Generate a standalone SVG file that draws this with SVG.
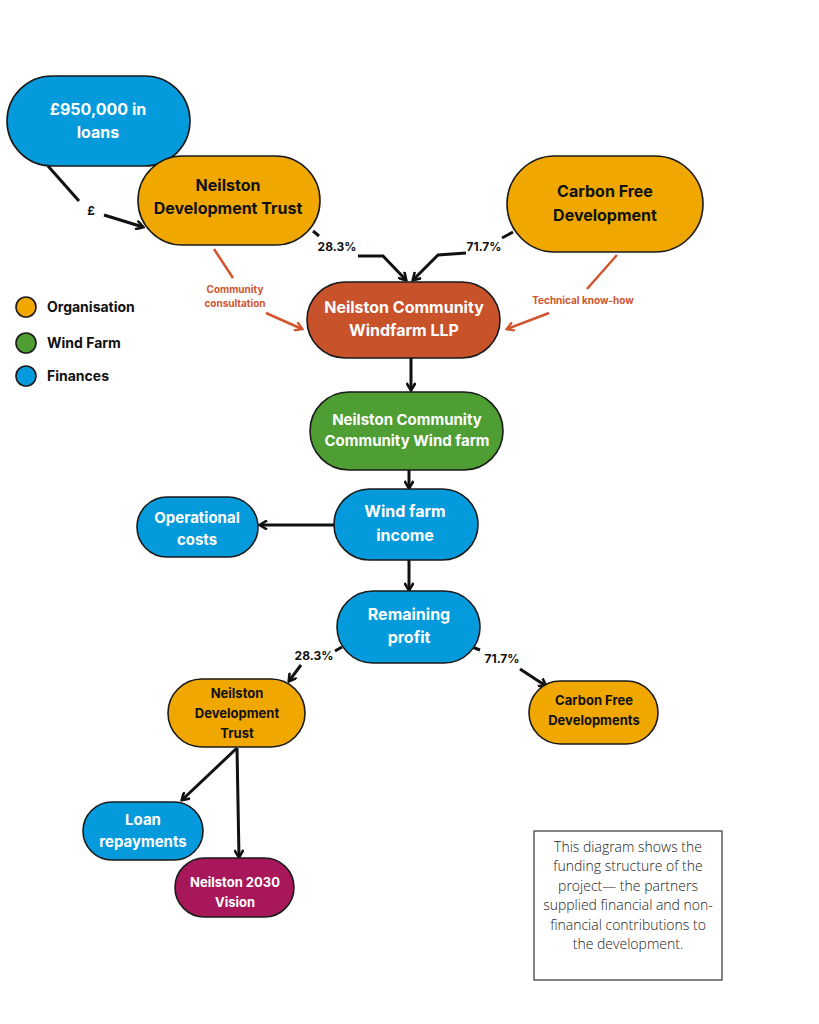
<svg xmlns="http://www.w3.org/2000/svg" width="819" height="1024" viewBox="0 0 819 1024">
<style>
.n{stroke:#1a1a1a;stroke-width:1.6}
.blue{fill:#049ADB}.org{fill:#F0A800}.llp{fill:#C8522A}.grn{fill:#4E9E33}.mag{fill:#A8175A}
text{font-family:Inter,"Liberation Sans",sans-serif;font-weight:700;text-anchor:middle}
.w{fill:#fff}.k{fill:#111}
.c{fill:none;stroke:#111;stroke-width:3}
.o{fill:none;stroke:#D0552F;stroke-width:2.5}
.lbl{font-size:12px;fill:#111}
.ol{font-size:10px;fill:#D0552F}
.leg{font-size:14px;fill:#111;text-anchor:start}
.note{font-family:"Open Sans",Lato,sans-serif;font-weight:300;font-size:14px;fill:#222}
</style>
<defs>
<marker id="ak" markerWidth="10" markerHeight="10" refX="8" refY="5" orient="auto" markerUnits="userSpaceOnUse" viewBox="0 0 10 10">
<path d="M1,0.5 L8.5,5 L1,9.5" fill="none" stroke="#111" stroke-width="2.6"/>
</marker>
<marker id="ao" markerWidth="10" markerHeight="10" refX="8" refY="5" orient="auto" markerUnits="userSpaceOnUse" viewBox="0 0 10 10">
<path d="M1,0.5 L8.5,5 L1,9.5" fill="none" stroke="#D0552F" stroke-width="2.3"/>
</marker>
</defs>
<rect width="819" height="1024" fill="#fff"/>

<g id="connectors">
<line class="c" x1="48" y1="166" x2="79" y2="201"/>
<line class="c" x1="104" y1="215" x2="143" y2="227" marker-end="url(#ak)"/>
<line class="c" x1="313" y1="231" x2="319" y2="236"/>
<polyline class="c" points="358,256 383,256 406,280" marker-end="url(#ak)"/>
<line class="c" x1="513" y1="232" x2="502" y2="238"/>
<polyline class="c" points="466,253 438,255 413,280" marker-end="url(#ak)"/>
<line class="o" x1="214" y1="249" x2="233" y2="278"/>
<line class="o" x1="266" y1="313" x2="302" y2="329" marker-end="url(#ao)"/>
<line class="o" x1="617" y1="255" x2="587" y2="289"/>
<line class="o" x1="549" y1="313" x2="507" y2="329" marker-end="url(#ao)"/>
<line class="c" x1="411" y1="358" x2="411" y2="390" marker-end="url(#ak)"/>
<line class="c" x1="409" y1="470" x2="409" y2="488" marker-end="url(#ak)"/>
<line class="c" x1="334" y1="525" x2="260" y2="525" marker-end="url(#ak)"/>
<line class="c" x1="409" y1="560" x2="409" y2="590" marker-end="url(#ak)"/>
<line class="c" x1="342" y1="647" x2="335" y2="651"/>
<line class="c" x1="301" y1="665" x2="289" y2="681" marker-end="url(#ak)"/>
<line class="c" x1="472" y1="647" x2="480" y2="650"/>
<line class="c" x1="520" y1="669" x2="546" y2="686" marker-end="url(#ak)"/>
<line class="c" x1="237" y1="748" x2="182" y2="800" marker-end="url(#ak)"/>
<line class="c" x1="237" y1="748" x2="239" y2="857" marker-end="url(#ak)"/>
<text class="lbl" x="91" y="215">£</text>
<text class="lbl" x="337" y="251">28.3%</text>
<text class="lbl" x="484" y="251">71.7%</text>
<text class="ol" x="235" y="293">Community</text>
<text class="ol" x="235" y="307">consultation</text>
<text class="ol" x="583" y="304">Technical know-how</text>
<text class="lbl" x="314" y="660">28.3%</text>
<text class="lbl" x="502" y="663">71.7%</text>
</g>

<g id="n-loans">
<rect class="n blue" x="7" y="76" width="183" height="90" rx="45"/>
<text class="w" font-size="16" x="98" y="115">£950,000 in</text>
<text class="w" font-size="16" x="98" y="138">loans</text>
</g>
<g id="n-ndt">
<rect class="n org" x="138" y="156" width="182" height="89" rx="44.5"/>
<text class="k" font-size="16" x="228" y="191">Neilston</text>
<text class="k" font-size="16" x="228" y="214">Development Trust</text>
</g>
<g id="n-cfd">
<rect class="n org" x="507" y="156" width="196" height="96" rx="48"/>
<text class="k" font-size="16" x="605" y="197">Carbon Free</text>
<text class="k" font-size="16" x="605" y="221">Development</text>
</g>
<g id="n-llp">
<rect class="n llp" x="307" y="282" width="193" height="76" rx="38"/>
<text class="w" font-size="16" x="404" y="313">Neilston Community</text>
<text class="w" font-size="16" x="404" y="336">Windfarm LLP</text>
</g>
<g id="n-windfarm">
<rect class="n grn" x="310" y="392" width="193" height="78" rx="39"/>
<text class="w" font-size="15" x="407" y="425">Neilston Community</text>
<text class="w" font-size="15" x="407" y="446">Community Wind farm</text>
</g>
<g id="n-income">
<rect class="n blue" x="334" y="489" width="144" height="71" rx="35.5"/>
<text class="w" font-size="16" x="405" y="517">Wind farm</text>
<text class="w" font-size="16" x="405" y="541">income</text>
</g>
<g id="n-opcosts">
<rect class="n blue" x="137" y="497" width="121" height="60" rx="30"/>
<text class="w" font-size="15" x="197" y="523">Operational</text>
<text class="w" font-size="15" x="197" y="545">costs</text>
</g>
<g id="n-profit">
<rect class="n blue" x="337" y="591" width="143" height="72" rx="36"/>
<text class="w" font-size="16" x="409" y="620">Remaining</text>
<text class="w" font-size="16" x="409" y="643">profit</text>
</g>
<g id="n-ndt2">
<rect class="n org" x="168" y="679" width="137" height="68" rx="34"/>
<text class="k" font-size="13" x="237" y="698">Neilston</text>
<text class="k" font-size="13" x="237" y="718">Development</text>
<text class="k" font-size="13" x="237" y="738">Trust</text>
</g>
<g id="n-cfds">
<rect class="n org" x="529" y="681" width="129" height="63" rx="31.5"/>
<text class="k" font-size="13" x="594" y="705">Carbon Free</text>
<text class="k" font-size="13" x="594" y="725">Developments</text>
</g>
<g id="n-loanrep">
<rect class="n blue" x="83" y="802" width="120" height="58" rx="29"/>
<text class="w" font-size="15" x="143" y="825">Loan</text>
<text class="w" font-size="15" x="143" y="847">repayments</text>
</g>
<g id="n-vision">
<rect class="n mag" x="175" y="858" width="119" height="59" rx="29.5"/>
<text class="w" font-size="13" x="235" y="887">Neilston 2030</text>
<text class="w" font-size="13" x="235" y="907">Vision</text>
</g>

<g id="legend">
<circle class="n org" cx="26" cy="307" r="10"/>
<circle class="n grn" cx="26" cy="343" r="10"/>
<circle class="n blue" cx="26" cy="376" r="10"/>
<text class="leg" x="47" y="312">Organisation</text>
<text class="leg" x="47" y="348">Wind Farm</text>
<text class="leg" x="47" y="381">Finances</text>
</g>

<g id="note">
<rect x="534" y="831" width="188" height="149" fill="#fff" stroke="#333" stroke-width="1.2"/>
<text class="note" x="628" y="852">This diagram shows the</text>
<text class="note" x="628" y="871">funding structure of the</text>
<text class="note" x="628" y="891">project— the partners</text>
<text class="note" x="628" y="910">supplied financial and non-</text>
<text class="note" x="628" y="930">financial contributions to</text>
<text class="note" x="628" y="949">the development.</text>
</g>
</svg>
